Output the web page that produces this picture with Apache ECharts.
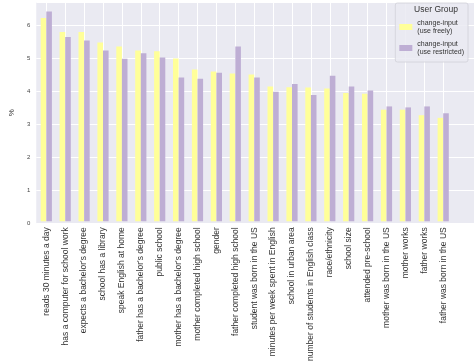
<!DOCTYPE html>
<html><head><meta charset="utf-8">
<script src="https://cdn.jsdelivr.net/npm/echarts@6/dist/echarts.min.js"></script>
<style>html,body{margin:0;padding:0;background:#fff}#c{width:474px;height:364px}</style>
</head><body><div id="c"></div>
<script>
const categories = ["reads 30 minutes a day","has a computer for school work","expects a bachelor's degree","school has a library","speak English at home","father has a bachelor's degree","public school","mother has a bachelor's degree","mother completed high school","gender","father completed high school","student was born in the US","minutes per week spent in English","school in urban area","number of students in English class","race/ethnicity","school size","attended pre-school","mother was born in the US","mother works","father works","father was born in the US"];
const useFreely = [6.23,5.80,5.80,5.48,5.36,5.23,5.21,4.99,4.65,4.59,4.53,4.50,4.13,4.11,4.10,4.07,3.93,3.91,3.42,3.42,3.25,3.17];
const useRestricted = [6.43,5.65,5.54,5.23,4.98,5.15,5.02,4.41,4.37,4.55,5.36,4.41,3.97,4.21,3.87,4.46,4.13,4.01,3.52,3.49,3.52,3.31];
const seriesNames = ["change-input\n(use freely)","change-input\n(use restricted)"];
const legendTitle = "User Group";
const yName = "%";

const chart = echarts.init(document.getElementById('c'), null, {renderer:'canvas'});
const FONT = 'Liberation Sans, Arial, sans-serif';
const TOP = 2, BOTTOM = 140.7, YMAX = 6.72;
chart.setOption({
  animation: false,
  grid: [
    {left:21, right:0, top:TOP, bottom:BOTTOM, show:true, backgroundColor:'#eaeaf2', borderWidth:0},
    {left:36.85, right:21.35, top:TOP, bottom:BOTTOM, show:false}
  ],
  xAxis: [
    {gridIndex:0, type:'value', min:0, max:1, show:false},
    {gridIndex:1, type:'category', data:categories, boundaryGap:true,
     axisLine:{show:false}, axisTick:{show:false, alignWithLabel:true},
     splitLine:{show:true, alignWithLabel:true, lineStyle:{color:'#ffffff', width:1}},
     axisLabel:{rotate:90, interval:0, fontSize:8.5, color:'#333', fontFamily:FONT, margin:6}}
  ],
  yAxis: [
    {gridIndex:0, type:'value', min:0, max:YMAX, interval:1,
     axisLine:{show:false}, axisTick:{show:false},
     splitLine:{lineStyle:{color:'#ffffff', width:1}},
     axisLabel:{fontSize:6, color:'#444', fontFamily:FONT, margin:6, showMaxLabel:false,
       formatter:v => (Math.abs(v-Math.round(v))<1e-6 ? String(Math.round(v)) : '')},
     name:yName, nameLocation:'middle', nameGap:13, nameTextStyle:{fontSize:8, color:'#333', fontFamily:FONT}},
    {gridIndex:1, type:'value', min:0, max:YMAX, show:false}
  ],
  legend: {
    orient:'vertical', right:6, top:3, padding:[16,4,6,4],
    backgroundColor:'rgba(234,234,242,0.85)', borderColor:'#d0d0d8', borderWidth:0.8, borderRadius:2,
    itemWidth:13, itemHeight:6, itemGap:5, icon:'rect',
    textStyle:{fontSize:7, color:'#333', fontFamily:FONT, lineHeight:8},
    data: seriesNames
  },
  graphic: [
    {type:'text', right:16, top:5, z:100, style:{text:legendTitle, font:'8.5px Liberation Sans, Arial, sans-serif', fill:'#333'}}
  ],
  series: [
    {name:seriesNames[0], type:'bar', xAxisIndex:1, yAxisIndex:1, data:useFreely, barWidth:5.6, barGap:'0%',
     itemStyle:{color:'#ffff99'}},
    {name:seriesNames[1], type:'bar', xAxisIndex:1, yAxisIndex:1, data:useRestricted, barWidth:5.6, barGap:'0%',
     itemStyle:{color:'#beaed4'}}
  ]
});
</script></body></html>
